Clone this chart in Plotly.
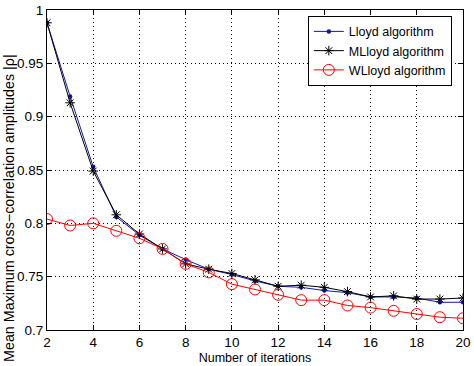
import plotly.graph_objects as go

iterations = list(range(2, 21))
lloyd = [0.988, 0.919, 0.853, 0.806, 0.789, 0.776, 0.766, 0.757, 0.752, 0.746,
         0.741, 0.740, 0.737, 0.735, 0.731, 0.731, 0.730, 0.726, 0.726]
mlloyd = [0.988, 0.913, 0.849, 0.808, 0.790, 0.776, 0.762, 0.757, 0.753, 0.747,
          0.741, 0.742, 0.740, 0.736, 0.731, 0.732, 0.729, 0.729, 0.730]
wlloyd = [0.804, 0.798, 0.800, 0.793, 0.786, 0.776, 0.762, 0.754, 0.743, 0.738,
          0.733, 0.728, 0.728, 0.723, 0.721, 0.718, 0.715, 0.712, 0.711]
names = ["Lloyd algorithm", "MLloyd algorithm", "WLloyd algorithm"]
xticks = list(range(2, 21, 2))
yticks = [0.7, 0.75, 0.8, 0.85, 0.9, 0.95, 1]

FONT = "Liberation Sans, Arial, sans-serif"

fig = go.Figure()
fig.add_trace(go.Scatter(x=iterations, y=lloyd, name=names[0], mode="lines+markers",
                         line=dict(color="#1414b4", width=1),
                         marker=dict(symbol="circle", size=4.5, color="#1414b4")))
fig.add_trace(go.Scatter(x=iterations, y=mlloyd, name=names[1], mode="lines+markers",
                         line=dict(color="black", width=1),
                         marker=dict(symbol="asterisk-open", size=8,
                                     line=dict(color="black", width=1))))
fig.add_trace(go.Scatter(x=iterations, y=wlloyd, name=names[2], mode="lines+markers",
                         line=dict(color="#ff0000", width=1),
                         marker=dict(symbol="circle-open", size=11,
                                     line=dict(color="#ff0000", width=1))))

axis_common = dict(showline=True, linecolor="black", linewidth=1, mirror="ticks",
                   ticks="inside", ticklen=5, tickcolor="black",
                   showgrid=True, gridcolor="black", griddash="1px,3px", gridwidth=1,
                   zeroline=False, ticklabeloverflow="allow",
                   tickfont=dict(family=FONT, size=13.5, color="black"))

fig.update_xaxes(range=[2, 20], tickvals=xticks, ticktext=[str(v) for v in xticks],
                 title=dict(text="Number of iterations", standoff=4,
                            font=dict(family=FONT, size=12.5, color="black")),
                 **axis_common)
fig.update_yaxes(range=[0.7, 1], tickvals=yticks, ticktext=[f"{v:g}" for v in yticks],
                 **axis_common)

fig.add_annotation(text="Mean Maximum cross\u2212correlation amplitudes |\u03c1|",
                   textangle=-90, xref="paper", yref="paper", x=-0.09, y=0.38,
                   xanchor="center", yanchor="middle", showarrow=False,
                   font=dict(family=FONT, size=14.3, color="black"))

fig.update_layout(
    width=474, height=366,
    margin=dict(l=47, r=7, t=3, b=31),
    paper_bgcolor="white", plot_bgcolor="white",
    showlegend=True,
    legend=dict(x=0.627, y=0.982, xanchor="left", yanchor="top",
                bgcolor="white", bordercolor="black", borderwidth=1,
                font=dict(family=FONT, size=12.5, color="black"),
                tracegroupgap=0, itemwidth=30),
)

fig.write_html("out.html")
